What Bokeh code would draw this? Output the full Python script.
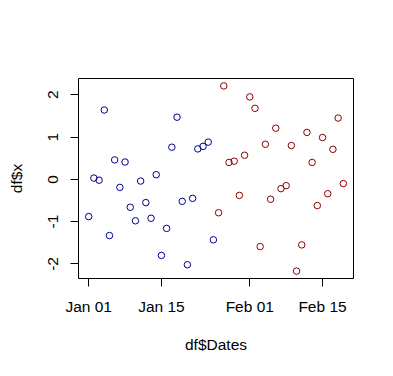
import pandas as pd
from bokeh.plotting import figure
from bokeh.models import ColumnDataSource, Range1d, FixedTicker, DatetimeTickFormatter
from bokeh.embed import file_html
from bokeh.resources import INLINE

# ---- data ----
start_date = "2021-01-01"
first_values = [-0.88, 0.03, -0.02, 1.64, -1.33, 0.46, -0.19, 0.41, -0.66, -0.98,
                -0.04, -0.55, -0.92, 0.11, -1.80, -1.16, 0.76, 1.47, -0.52, -2.02,
                -0.45, 0.72, 0.78, 0.88, -1.43]
second_values = [-0.79, 2.21, 0.40, 0.43, -0.38, 0.57, 1.95, 1.68, -1.59, 0.83,
                 -0.47, 1.21, -0.22, -0.15, 0.80, -2.17, -1.55, 1.11, 0.40, -0.62,
                 0.99, -0.34, 0.71, 1.45, -0.10]
first_color = "#00008B"
second_color = "#8B0000"
x_tick_dates = ["2021-01-01", "2021-01-15", "2021-02-01", "2021-02-15"]
y_ticks = [-2, -1, 0, 1, 2]
y_tick_labels = ["-2", "-1", "0", "1", "2"]

values = first_values + second_values
dates = pd.date_range(start_date, periods=len(values), freq="D")
colors = [first_color] * len(first_values) + [second_color] * len(second_values)

src = ColumnDataSource(dict(date=dates, x=values, color=colors))

def ms(t):
    return pd.Timestamp(t).value / 1e6

x0, x1 = ms(dates[0]), ms(dates[-1])
xpad = 0.04 * (x1 - x0)
y0, y1 = min(values), max(values)
ypad = 0.04 * (y1 - y0)

FONT = "Liberation Sans"
FS = "15.5px"

p = figure(frame_width=275, frame_height=200,
           min_border_left=78, min_border_right=40, min_border_top=78, min_border_bottom=98,
           x_axis_type="datetime", output_backend="svg", toolbar_location=None,
           x_range=Range1d(x0 - xpad, x1 + xpad), y_range=Range1d(y0 - ypad, y1 + ypad))
p.background_fill_color = "white"
p.border_fill_color = "white"
p.outline_line_color = "black"
p.outline_line_width = 1
p.outline_line_alpha = 1
p.grid.visible = False

p.scatter("date", "x", source=src, marker="circle", size=6.5, fill_color=None,
          line_color="color", line_width=1)

p.xaxis.ticker = FixedTicker(ticks=[ms(d) for d in x_tick_dates])
fmt = "%b %d"
p.xaxis.formatter = DatetimeTickFormatter(days=fmt, months=fmt, years=fmt, hours=fmt,
                                          minutes=fmt, seconds=fmt, milliseconds=fmt,
                                          microseconds=fmt, hourmin=fmt, minsec=fmt)
p.yaxis.ticker = FixedTicker(ticks=y_ticks)
p.yaxis.major_label_overrides = dict(zip(y_ticks, y_tick_labels))
p.xaxis.axis_label = "df$Dates"
p.yaxis.axis_label = "df$x"
p.yaxis.major_label_orientation = "vertical"

for ax in (p.xaxis[0], p.yaxis[0]):
    ax.axis_line_color = None
    ax.major_tick_in = 0
    ax.major_tick_out = 8
    ax.major_tick_line_color = "black"
    ax.minor_tick_line_color = None
    ax.major_label_text_font = FONT
    ax.major_label_text_font_size = FS
    ax.major_label_text_color = "black"
    ax.axis_label_text_font = FONT
    ax.axis_label_text_font_size = FS
    ax.axis_label_text_font_style = "normal"
    ax.axis_label_text_color = "black"

p.xaxis.major_label_standoff = 11
p.xaxis.axis_label_standoff = 18
p.yaxis.major_label_standoff = 12
p.yaxis.axis_label_standoff = 21

open("out.html", "w").write(file_html(p, INLINE))
